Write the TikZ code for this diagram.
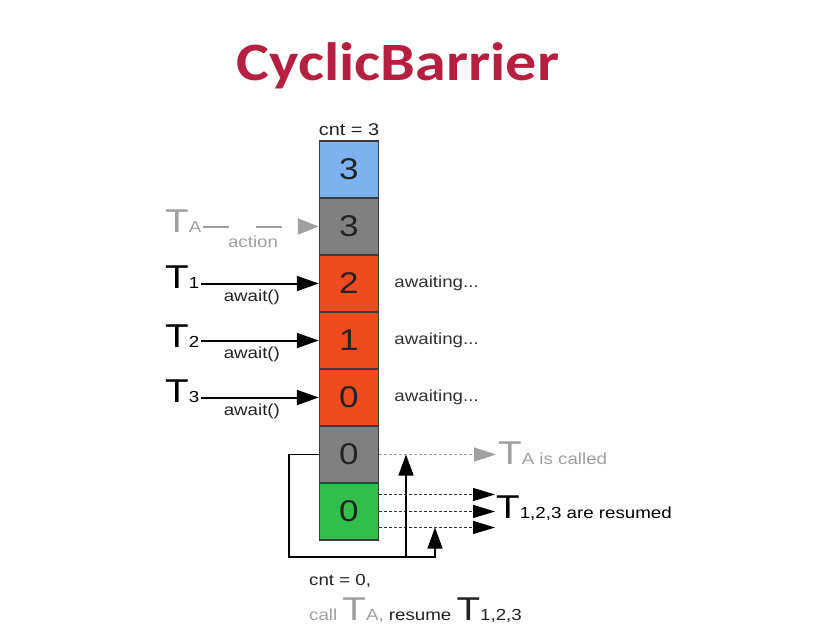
\documentclass[tikz,border=0pt]{standalone}
\usepackage{fontspec}
\setmainfont{Liberation Sans}[FakeStretch=1.17]
\newfontfamily\titlefont{Carlito}[FakeStretch=1.15]
\usetikzlibrary{arrows.meta,positioning,calc}

\definecolor{titlered}{RGB}{181,32,64}
\definecolor{cellblue}{RGB}{125,178,240}
\definecolor{cellgray}{RGB}{128,128,128}
\definecolor{cellred}{RGB}{240,75,30}
\definecolor{cellgreen}{RGB}{50,190,75}
\definecolor{cellborder}{RGB}{60,60,60}
\definecolor{celltext}{RGB}{35,35,35}
\definecolor{lgray}{RGB}{160,160,160}
\definecolor{dgray}{RGB}{50,50,50}

\newcommand{\bigT}{{\fontsize{33}{33}\selectfont T}}

\tikzset{
  cell/.style={draw=cellborder, line width=1.5pt, minimum width=59pt, minimum height=57pt,
    inner sep=0pt, font=\fontsize{30}{30}\selectfont, text=celltext},
  tname/.style={anchor=base west, inner sep=2pt, font=\fontsize{16}{16}\selectfont},
  smalltext/.style={inner sep=1pt, font=\fontsize{16}{16}\selectfont},
  callarrow/.style={line width=2pt, -{Triangle[length=22pt,width=15pt]}},
  actionarrow/.style={line width=2pt, lgray, dash pattern=on 26pt off 27pt,
    -{Triangle[length=21pt,width=16pt]}},
  calldash/.style={line width=1.2pt, lgray, dash pattern=on 3pt off 2pt,
    -{Triangle[length=22pt,width=14pt]}},
  resumedash/.style={line width=1.2pt, dgray, dash pattern=on 3pt off 2pt,
    -{Triangle[length=22pt,width=13pt,color=black]}},
  loopline/.style={line width=1.5pt, black},
}

\begin{document}
\begin{tikzpicture}[x=1pt,y=-1pt]
  \fill[white] (0,0) rectangle (829,643);
  \useasboundingbox (0,0) rectangle (829,643);

  % Parameters definitions
  \def\cellx{349} % X position of the column
  \def\celly{141} % Y position of the top of the column
  \def\cellh{57}  % Height of a cell

  % Title
  \node[anchor=base, text=titlered, font=\titlefont\bfseries\fontsize{54}{54}\selectfont] (title) at (398, 80) {CyclicBarrier};

  % Cells
  \foreach \digit/\col [count=\i] in {3/cellblue, 3/cellgray, 2/cellred, 1/cellred, 0/cellred, 0/cellgray, 0/cellgreen}
    \node[cell, fill=\col] (c\i) at (\cellx, {\celly+\cellh*(\i-0.5)}) {\digit};

  \node[above=3pt of c1, inner sep=1pt, font=\fontsize{17}{17}\selectfont, text=celltext] (cntstart) {cnt = 3};

  % Barrier action
  \node[tname, text=lgray] (ta) at (163, 232) {\bigT A};
  \draw[actionarrow] (ta.east |- c2) -- (c2.west)
    node[pos=0.43, below=7pt, smalltext, text=lgray] (action) {action};

  % Threads
  \foreach \i/\row/\yb in {1/3/288, 2/4/347, 3/5/402} {
    \node[tname, text=black] (t\i) at (163, \yb) {\bigT\i};
    \draw[callarrow] (t\i.east |- c\row) -- (c\row.west)
      node[pos=0.43, below=4pt, smalltext, text=celltext] (await\i) {await()};
    \node[right=14pt of c\row, smalltext, text=dgray] (wait\i) {awaiting...};
  }

  % Trip
  \node[tname, text=lgray] (tacalled) at (496, 464) {\bigT A is called};
  \draw[calldash] (c6.east) -- (c6.east -| tacalled.west);

  \node[tname, text=black, inner sep=1pt] (resumed) at (495, 518) {\bigT 1,2,3 are resumed};
  \coordinate (rs1) at ($(c7.east)+(0,-17)$);
  \coordinate (rs2) at (c7.east);
  \coordinate (rs3) at ($(c7.east)+(0,16)$);
  \foreach \i in {1,2,3}
    \draw[resumedash] (rs\i) -- (rs\i -| resumed.west);

  % Loop back
  \coordinate (loopl) at ($(c6.west)+(-30,0)$);
  \coordinate (loopr) at (435, 557);
  \coordinate (loopm) at (406, 557);
  \draw[loopline, -{Triangle[length=21pt,width=15pt]}] (c6.west) -- (loopl) |- (loopr) -- (loopr |- rs3);
  \draw[loopline, -{Triangle[length=21pt,width=15pt]}] (loopm) -- (loopm |- c6.east);

  % Notes
  \node[tname, text=celltext, inner sep=0pt] (cntend) at (309, 585) {cnt = 0,};
  \node[tname, text=celltext, inner sep=0pt] (callnote) at (309, 620)
    {{\color{lgray}call \bigT A,} resume \bigT 1,2,3};
\end{tikzpicture}
\end{document}
